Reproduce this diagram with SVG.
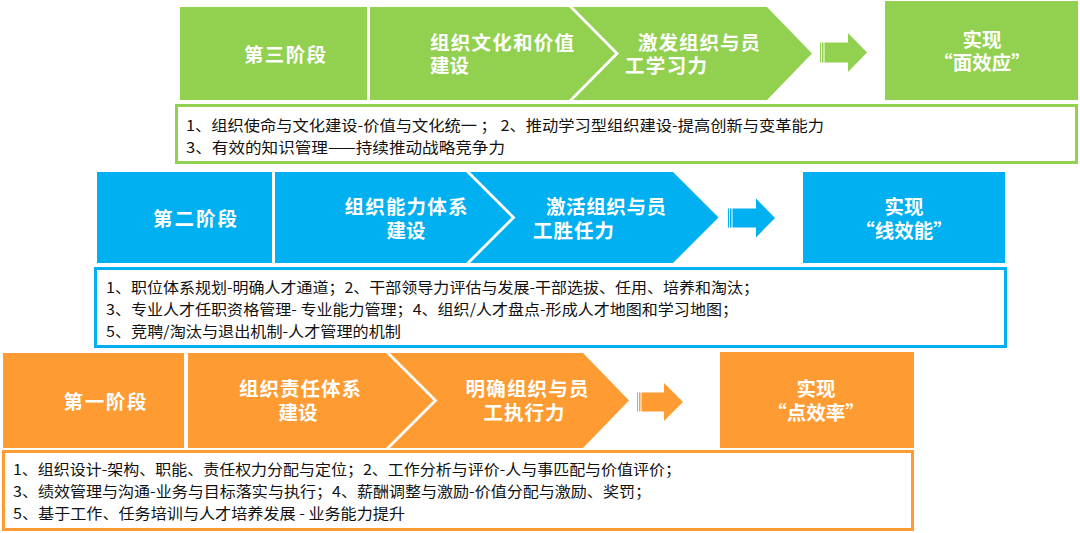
<svg xmlns="http://www.w3.org/2000/svg" width="1080" height="533" viewBox="0 0 1080 533">
<style>
.g{fill:#92D050}
.b{fill:#00B0F0}
.o{fill:#FF9B33}
.lbl{font-family:"Noto Sans CJK SC","Noto Sans",sans-serif;font-weight:700;font-size:19.5px;fill:#fff}
.c{text-anchor:middle}
.txt{font-family:"Noto Sans CJK SC","Noto Sans",sans-serif;font-size:15px;fill:#111}
.box{fill:#fff;stroke-width:3}
</style>
<rect width="1080" height="533" fill="#fff"/>

<!-- Stage 3 (green) -->
<g id="stage3">
<rect class="g" x="180" y="7" width="187" height="93"/>
<text class="lbl c" x="285" y="62" textLength="82" lengthAdjust="spacing">第三阶段</text>
</g>
<g id="stage3-step1">
<polygon class="g" points="370,7 569,7 615,53.5 569,100 370,100"/>
<text class="lbl" x="430" y="50" textLength="144" lengthAdjust="spacing">组织文化和价值</text>
<text class="lbl" x="430" y="73">建设</text>
</g>
<g id="stage3-step2">
<polygon class="g" points="573,7 767,7 812,53.5 767,100 573,100 619,53.5"/>
<text class="lbl" x="638" y="50" textLength="122" lengthAdjust="spacing">激发组织与员</text>
<text class="lbl" x="625" y="73" textLength="82" lengthAdjust="spacing">工学习力</text>
</g>
<g id="stage3-result">
<rect class="g" x="885" y="1" width="193" height="99"/>
<text class="lbl c" x="982" y="47">实现</text>
<text class="lbl c" x="982" y="70">“面效应”</text>
</g>
<g id="stage3-details">
<rect class="box" x="176.5" y="105.5" width="900" height="57" stroke="#92D050"/>
<text class="txt" x="186" y="130.5" textLength="638" lengthAdjust="spacingAndGlyphs">1、组织使命与文化建设-价值与文化统一 ； 2、推动学习型组织建设-提高创新与变革能力</text>
<text class="txt" x="186" y="152.5" textLength="319" lengthAdjust="spacingAndGlyphs">3、有效的知识管理——持续推动战略竞争力</text>
</g>

<!-- Stage 2 (blue) -->
<g id="stage2">
<rect class="b" x="97" y="172" width="175" height="91"/>
<text class="lbl c" x="195" y="225.5" textLength="84" lengthAdjust="spacing">第二阶段</text>
</g>
<g id="stage2-step1">
<polygon class="b" points="275,172 466,172 511.5,217.5 466,263 275,263"/>
<text class="lbl c" x="406" y="214" textLength="123" lengthAdjust="spacing">组织能力体系</text>
<text class="lbl c" x="406" y="237.5">建设</text>
</g>
<g id="stage2-step2">
<polygon class="b" points="470,172 673,172 718.5,217.5 673,263 470,263 515.5,217.5"/>
<text class="lbl" x="546" y="214" textLength="120" lengthAdjust="spacing">激活组织与员</text>
<text class="lbl" x="533" y="237.5" textLength="81" lengthAdjust="spacing">工胜任力</text>
</g>
<g id="stage2-result">
<rect class="b" x="803" y="172" width="202" height="91"/>
<text class="lbl c" x="904" y="214">实现</text>
<text class="lbl c" x="904" y="237.5">“线效能”</text>
</g>
<g id="stage2-details">
<rect class="box" x="95.5" y="268.5" width="910" height="78" stroke="#00B0F0"/>
<text class="txt" x="106" y="292.5" textLength="653" lengthAdjust="spacingAndGlyphs">1、职位体系规划-明确人才通道；2、干部领导力评估与发展-干部选拔、任用、培养和淘汰；</text>
<text class="txt" x="106" y="314.5" textLength="632" lengthAdjust="spacingAndGlyphs">3、专业人才任职资格管理- 专业能力管理；4、组织/人才盘点-形成人才地图和学习地图；</text>
<text class="txt" x="106" y="336.5" textLength="295" lengthAdjust="spacingAndGlyphs">5、竞聘/淘汰与退出机制-人才管理的机制</text>
</g>

<!-- Stage 1 (orange) -->
<g id="stage1">
<rect class="o" x="3" y="353" width="181" height="95"/>
<text class="lbl c" x="105" y="408.5" textLength="83" lengthAdjust="spacing">第一阶段</text>
</g>
<g id="stage1-step1">
<polygon class="o" points="188,353 386,353 433.5,400.5 386,448 188,448"/>
<text class="lbl c" x="300" y="395.5" textLength="122" lengthAdjust="spacing">组织责任体系</text>
<text class="lbl c" x="298" y="420">建设</text>
</g>
<g id="stage1-step2">
<polygon class="o" points="390,353 583,353 629,400.5 583,448 390,448 437.5,400.5"/>
<text class="lbl c" x="527" y="395.5" textLength="123" lengthAdjust="spacing">明确组织与员</text>
<text class="lbl c" x="524" y="420" textLength="81" lengthAdjust="spacing">工执行力</text>
</g>
<g id="stage1-result">
<rect class="o" x="720" y="352" width="194" height="96"/>
<text class="lbl c" x="816" y="395.5">实现</text>
<text class="lbl c" x="816" y="420">“点效率”</text>
</g>
<g id="stage1-details">
<rect class="box" x="3.5" y="451.5" width="909" height="78" stroke="#FF9B33"/>
<text class="txt" x="13" y="474.5" textLength="668" lengthAdjust="spacingAndGlyphs">1、组织设计-架构、职能、责任权力分配与定位；2、工作分析与评价-人与事匹配与价值评价；</text>
<text class="txt" x="13" y="497" textLength="638" lengthAdjust="spacingAndGlyphs">3、绩效管理与沟通-业务与目标落实与执行；4、薪酬调整与激励-价值分配与激励、奖罚；</text>
<text class="txt" x="13" y="518.5" textLength="392" lengthAdjust="spacingAndGlyphs">5、基于工作、任务培训与人才培养发展 - 业务能力提升</text>
</g>

<!-- Connectors: striped block arrows -->
<g id="connectors">
<g class="g">
<rect x="820" y="42.5" width="1" height="20"/>
<rect x="822" y="42.5" width="1.5" height="20"/>
<polygon points="824.5,42.5 848,42.5 848,33 867,52.5 848,72 848,62.5 824.5,62.5"/>
</g>
<g class="b">
<rect x="728" y="208.5" width="1" height="19"/>
<rect x="730" y="208.5" width="1.5" height="19"/>
<polygon points="732.5,208.5 756,208.5 756,198.5 775,218 756,237.5 756,227.5 732.5,227.5"/>
</g>
<g class="o">
<rect x="637" y="392.5" width="1" height="19"/>
<rect x="639" y="392.5" width="1.5" height="19"/>
<polygon points="641.5,392.5 664,392.5 664,383 683,402 664,421 664,411.5 641.5,411.5"/>
</g>
</g>
</svg>
